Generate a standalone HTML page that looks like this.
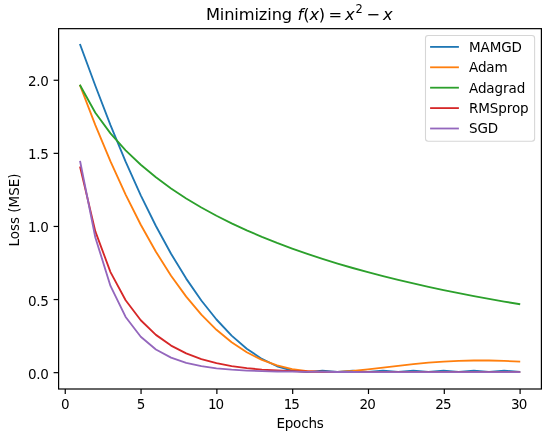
<!DOCTYPE html>
<html><head><meta charset="utf-8"><title>Minimizing f(x) = x^2 - x</title>
<style>
html,body{margin:0;padding:0;background:#fff;}
svg{display:block;}
text{font-family:"DejaVu Sans", "Liberation Sans", sans-serif;fill:#000;}
.t{font-size:13.5px;}
.ti{font-size:16.25px;}
.it{font-family:"DejaVu Sans", "Liberation Sans", sans-serif;font-style:oblique;}
</style></head><body>
<svg width="550" height="439" viewBox="0 0 550 439">
<rect width="550" height="439" fill="#ffffff"/>

<clipPath id="c"><rect x="58.6" y="28.66" width="482.79999999999995" height="360.34"/></clipPath>
<g clip-path="url(#c)" fill="none" stroke-width="1.85" stroke-linecap="square" stroke-linejoin="round">
<polyline points="80.20,44.84 95.34,85.74 110.48,125.19 125.62,161.72 140.76,195.32 155.91,226.00 171.05,253.76 186.19,278.60 201.33,300.51 216.47,319.50 231.61,335.58 246.75,348.72 261.89,358.95 277.03,366.26 292.18,370.64 307.32,372.10 322.46,370.57 337.60,371.88 352.74,370.57 367.88,371.88 383.02,370.57 398.16,371.88 413.30,370.57 428.44,371.88 443.58,370.57 458.73,371.88 473.87,370.57 489.01,371.88 504.15,370.57 519.29,371.88" stroke="#1f77b4"/>
<polyline points="80.20,85.74 95.34,125.10 110.48,161.40 125.62,194.61 140.76,224.72 155.91,251.74 171.05,275.70 186.19,296.63 201.33,314.64 216.47,329.82 231.61,342.31 246.75,352.28 261.89,359.92 277.03,365.47 292.18,369.16 307.32,371.27 322.46,372.07 337.60,371.84 352.74,370.86 367.88,369.38 383.02,367.63 398.16,365.83 413.30,364.14 428.44,362.68 443.58,361.56 458.73,360.81 473.87,360.47 489.01,360.51 504.15,360.91 519.29,361.61" stroke="#ff7f0e"/>
<polyline points="80.20,85.52 95.34,112.69 110.48,133.42 125.62,150.37 140.76,164.78 155.91,177.33 171.05,188.45 186.19,198.43 201.33,207.47 216.47,215.73 231.61,223.32 246.75,230.34 261.89,236.84 277.03,242.90 292.18,248.57 307.32,253.88 322.46,258.86 337.60,263.56 352.74,267.99 367.88,272.17 383.02,276.13 398.16,279.89 413.30,283.46 428.44,286.85 443.58,290.07 458.73,293.15 473.87,296.08 489.01,298.87 504.15,301.54 519.29,304.10" stroke="#2ca02c"/>
<polyline points="80.20,167.37 95.34,231.34 110.48,272.12 125.62,300.21 140.76,320.28 155.91,334.88 171.05,345.56 186.19,353.38 201.33,359.08 216.47,363.18 231.61,366.11 246.75,368.15 261.89,369.56 277.03,370.50 292.18,371.12 307.32,371.52 322.46,371.77 337.60,371.91 352.74,372.00 367.88,372.05 383.02,372.07 398.16,372.09 413.30,372.09 428.44,372.10 443.58,372.10 458.73,372.10 473.87,372.10 489.01,372.10 504.15,372.10 519.29,372.10" stroke="#d62728"/>
<polyline points="80.20,161.72 95.34,237.45 110.48,285.93 125.62,316.95 140.76,336.80 155.91,349.51 171.05,357.64 186.19,362.85 201.33,366.18 216.47,368.31 231.61,369.67 246.75,370.55 261.89,371.11 277.03,371.46 292.18,371.69 307.32,371.84 322.46,371.93 337.60,371.99 352.74,372.03 367.88,372.06 383.02,372.07 398.16,372.08 413.30,372.09 428.44,372.09 443.58,372.10 458.73,372.10 473.87,372.10 489.01,372.10 504.15,372.10 519.29,372.10" stroke="#9467bd"/>
</g>
<rect x="58.6" y="28.66" width="482.79999999999995" height="360.34" fill="none" stroke="#000" stroke-width="1.2"/>
<g stroke="#000" stroke-width="1.2">
<line x1="65.25" y1="389.0" x2="65.25" y2="394.0"/>
<line x1="141.06" y1="389.0" x2="141.06" y2="394.0"/>
<line x1="216.87" y1="389.0" x2="216.87" y2="394.0"/>
<line x1="292.68" y1="389.0" x2="292.68" y2="394.0"/>
<line x1="368.49" y1="389.0" x2="368.49" y2="394.0"/>
<line x1="444.30" y1="389.0" x2="444.30" y2="394.0"/>
<line x1="520.11" y1="389.0" x2="520.11" y2="394.0"/>
<line x1="58.6" y1="372.66" x2="53.6" y2="372.66"/>
<line x1="58.6" y1="299.56" x2="53.6" y2="299.56"/>
<line x1="58.6" y1="226.46" x2="53.6" y2="226.46"/>
<line x1="58.6" y1="153.36" x2="53.6" y2="153.36"/>
<line x1="58.6" y1="80.26" x2="53.6" y2="80.26"/>
</g>
<g class="t">
<text x="60.95" y="408.9">0</text>
<text x="136.76" y="408.9">5</text>
<text x="207.88" y="408.9" letter-spacing="-0.95">10</text>
<text x="283.69" y="408.9" letter-spacing="-0.95">15</text>
<text x="359.50" y="408.9" letter-spacing="-0.95">20</text>
<text x="435.31" y="408.9" letter-spacing="-0.95">25</text>
<text x="511.12" y="408.9" letter-spacing="-0.95">30</text>
<text x="28.06" y="378.66" letter-spacing="-0.36">0.0</text>
<text x="28.06" y="305.56" letter-spacing="-0.36">0.5</text>
<text x="28.06" y="232.46" letter-spacing="-0.36">1.0</text>
<text x="28.06" y="159.36" letter-spacing="-0.36">1.5</text>
<text x="28.06" y="86.26" letter-spacing="-0.36">2.0</text>
<text x="300.00" y="427.9" text-anchor="middle" letter-spacing="-0.2">Epochs</text>
<text transform="translate(18.8,210.03) rotate(-90)" text-anchor="middle">Loss (MSE)</text>
</g>
<g class="ti">
<text x="205.9" y="19.5" letter-spacing="-0.12">Minimizing</text>
<text x="297.4" y="19.5" class="it">f</text>
<text x="303.2" y="19.5">(</text>
<text x="309.5" y="19.5" class="it">x</text>
<text x="318.8" y="19.5">)</text>
<text x="328.5" y="19.5">=</text>
<text x="345" y="19.5" class="it">x</text>
<text x="355.5" y="12.7" style="font-size:11.4px">2</text>
<text x="366.5" y="19.5">−</text>
<text x="383" y="19.5" class="it">x</text>
</g>
<rect x="425.5" y="35.5" width="109.1" height="105.7" rx="2.7" ry="2.7" fill="#fff" fill-opacity="0.8" stroke="#cccccc" stroke-opacity="0.8" stroke-width="1.08"/>
<line x1="431" y1="46.9" x2="458" y2="46.9" stroke="#1f77b4" stroke-width="1.8" stroke-linecap="square"/>
<text class="t" x="469.0" letter-spacing="-0.1" y="51.7">MAMGD</text>
<line x1="431" y1="67.3" x2="458" y2="67.3" stroke="#ff7f0e" stroke-width="1.8" stroke-linecap="square"/>
<text class="t" x="469.0" letter-spacing="-0.1" y="72.1">Adam</text>
<line x1="431" y1="87.7" x2="458" y2="87.7" stroke="#2ca02c" stroke-width="1.8" stroke-linecap="square"/>
<text class="t" x="469.0" letter-spacing="-0.1" y="92.5">Adagrad</text>
<line x1="431" y1="108.1" x2="458" y2="108.1" stroke="#d62728" stroke-width="1.8" stroke-linecap="square"/>
<text class="t" x="469.0" letter-spacing="-0.1" y="112.9">RMSprop</text>
<line x1="431" y1="128.5" x2="458" y2="128.5" stroke="#9467bd" stroke-width="1.8" stroke-linecap="square"/>
<text class="t" x="469.0" letter-spacing="-0.1" y="133.3">SGD</text>
</svg></body></html>
